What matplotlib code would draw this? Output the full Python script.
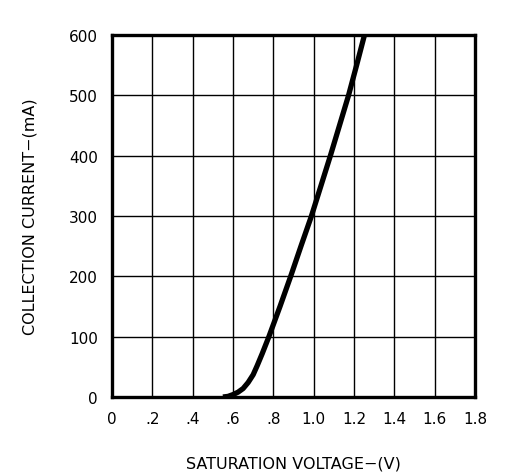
import matplotlib
matplotlib.use("Agg")
import matplotlib.pyplot as plt

voltage = [0.55, 0.575, 0.60, 0.625, 0.65, 0.675, 0.70, 0.72, 0.745, 0.778, 0.833, 0.886, 0.937, 0.989, 1.036, 1.083, 1.128, 1.173, 1.213, 1.252]
current = [0, 1, 4, 8, 14, 24, 37, 52, 72, 100, 150, 200, 250, 300, 350, 400, 450, 500, 550, 600]

x_ticks = [0, 0.2, 0.4, 0.6, 0.8, 1.0, 1.2, 1.4, 1.6, 1.8]
x_tick_labels = ["0", ".2", ".4", ".6", ".8", "1.0", "1.2", "1.4", "1.6", "1.8"]
y_ticks = [0, 100, 200, 300, 400, 500, 600]
y_tick_labels = ["0", "100", "200", "300", "400", "500", "600"]

plt.rcParams['font.family'] = ['DejaVu Sans']

fig = plt.figure(figsize=(5.1, 4.77), dpi=100)
ax = fig.add_axes([112/510, 1-398/477, 363/510, 362/477])

ax.plot(voltage, current, color='black', linewidth=3.8, solid_capstyle='butt',
        solid_joinstyle='round', zorder=3)

ax.set_xlim(0, 1.8)
ax.set_ylim(0, 600)
ax.set_xticks(x_ticks)
ax.set_xticklabels(x_tick_labels)
ax.set_yticks(y_ticks)
ax.set_yticklabels(y_tick_labels)
ax.grid(True, color='black', linewidth=1.0)
ax.tick_params(length=0, labelsize=11, pad=10)

for s in ax.spines.values():
    s.set_linewidth(2.4)
    s.set_color('black')
    s.set_zorder(4)

ax.set_xlabel("SATURATION VOLTAGE\u2212(V)", fontsize=11.5)
ax.set_ylabel("COLLECTION CURRENT\u2212(mA)", fontsize=11.5)
ax.xaxis.set_label_coords((293-112)/363, (398-457)/362)
ax.yaxis.set_label_coords((38-112)/363, 0.5)

fig.savefig("out.png", dpi=100)
